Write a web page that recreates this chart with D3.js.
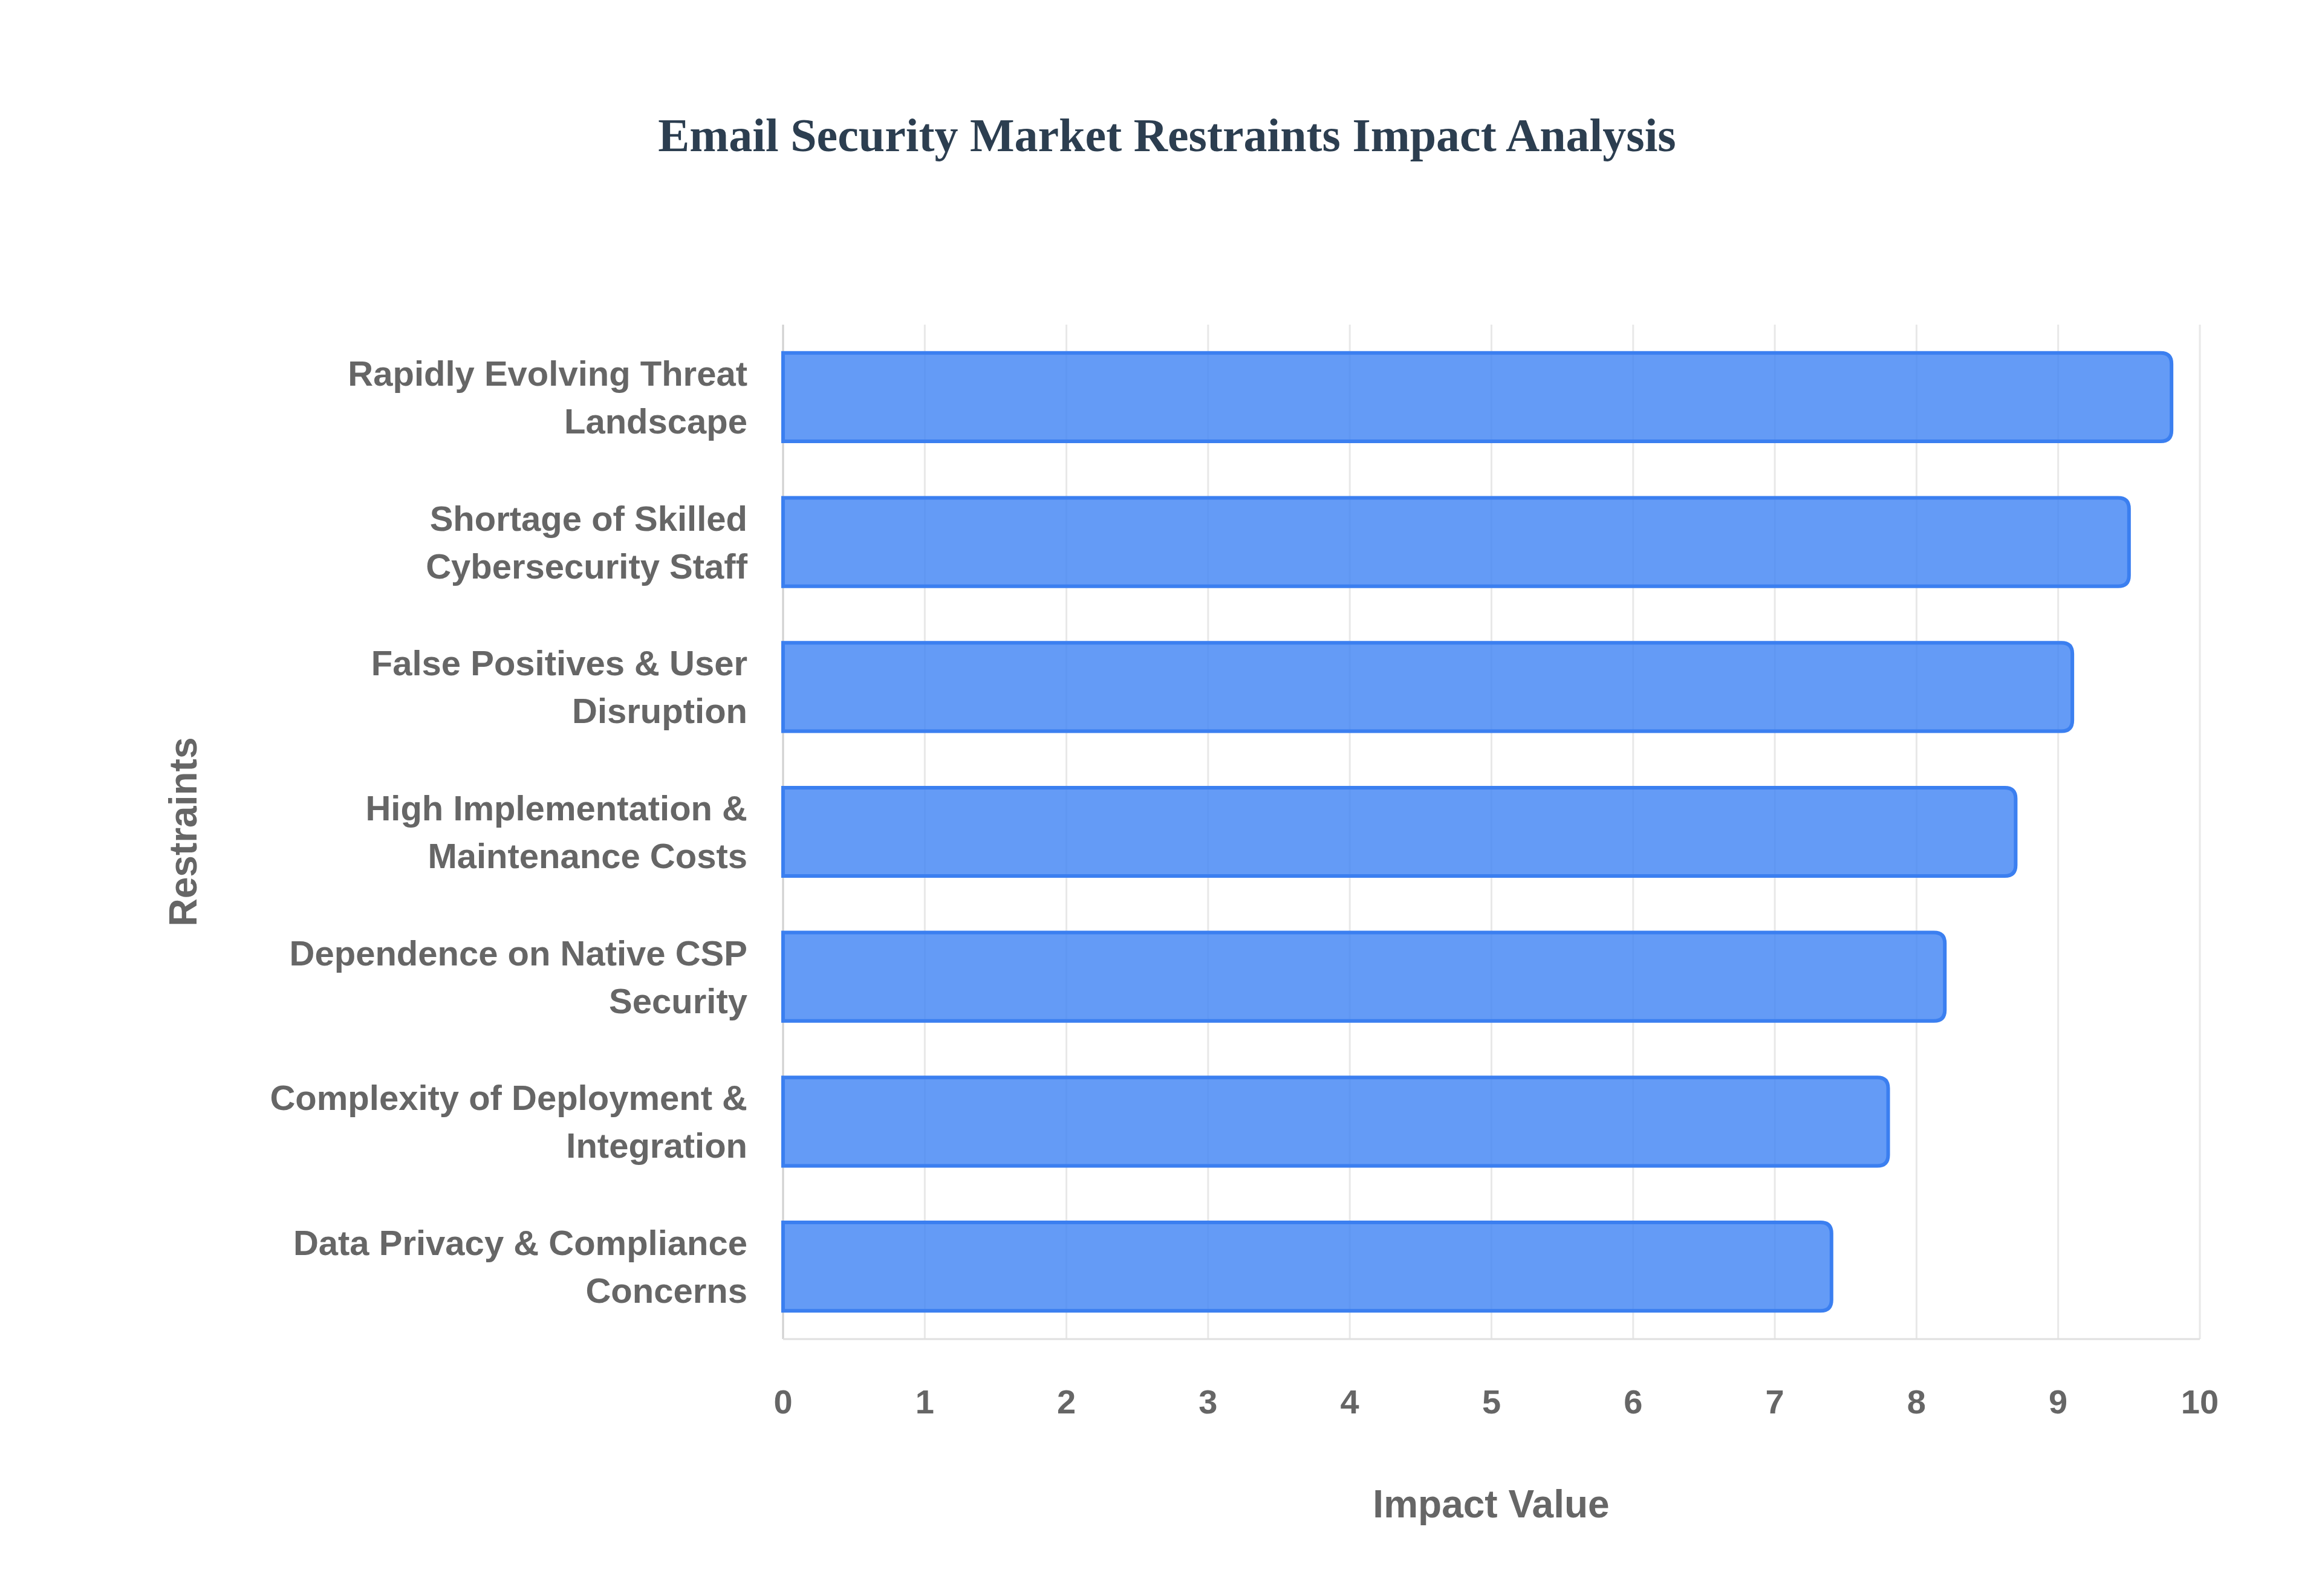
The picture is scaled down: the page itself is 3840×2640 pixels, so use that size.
<!DOCTYPE html>
<html><head><meta charset="utf-8">
<script src="https://cdn.jsdelivr.net/npm/d3@7/dist/d3.min.js"></script>
<style>body{margin:0;background:#fff}</style></head>
<body><svg id="c" width="3840" height="2640"></svg>
<script>
const categories = [
  ["Rapidly Evolving Threat","Landscape"],
  ["Shortage of Skilled","Cybersecurity Staff"],
  ["False Positives & User","Disruption"],
  ["High Implementation &","Maintenance Costs"],
  ["Dependence on Native CSP","Security"],
  ["Complexity of Deployment &","Integration"],
  ["Data Privacy & Compliance","Concerns"]
];
const values = [9.8, 9.5, 9.1, 8.7, 8.2, 7.8, 7.4];
const xTicks = [0,1,2,3,4,5,6,7,8,9,10];

const svg = d3.select("#c");
const L=1295, R=3638, T=537, B=2215;
const x = d3.scaleLinear().domain([0,10]).range([L,R]);
const y = d3.scaleBand().domain(d3.range(categories.length)).range([T,B]).paddingInner(0.39).paddingOuter(0.195);

svg.append("text").attr("x",1930).attr("y",250).attr("text-anchor","middle")
  .attr("font-family","Liberation Serif, Times New Roman, serif").attr("font-weight","bold")
  .attr("font-size",78).attr("fill","#2c3e50").text("Email Security Market Restraints Impact Analysis");

svg.append("g").selectAll("line").data(xTicks).join("line")
  .attr("x1",d=>x(d)).attr("x2",d=>x(d)).attr("y1",T).attr("y2",B)
  .attr("stroke",d=>d===0?"#d0d0d0":"#e8e8e8").attr("stroke-width",3);
svg.append("line").attr("x1",L).attr("x2",R).attr("y1",B).attr("y2",B).attr("stroke","#e0e0e0").attr("stroke-width",3);

const r=18;
svg.append("g").selectAll("path").data(values).join("path")
  .attr("d",(d,i)=>{const y0=y(i),h=y.bandwidth(),x0=x(0),x1=x(d);
    return `M${x0},${y0}H${x1-r}Q${x1},${y0} ${x1},${y0+r}V${y0+h-r}Q${x1},${y0+h} ${x1-r},${y0+h}H${x0}Z`;})
  .attr("fill","rgba(66,133,244,0.82)").attr("stroke","#3b7ff0").attr("stroke-width",6);

svg.append("g").selectAll("text").data(xTicks).join("text")
  .attr("x",d=>x(d)).attr("y",2338).attr("text-anchor","middle")
  .attr("font-family","Liberation Sans, Arial, sans-serif").attr("font-weight","bold")
  .attr("font-size",56).attr("fill","#666").text(d=>d);

const lab = svg.append("g").selectAll("text").data(categories).join("text")
  .attr("text-anchor","end").attr("font-family","Liberation Sans, Arial, sans-serif")
  .attr("font-weight","bold").attr("font-size",58).attr("fill","#666");
lab.each(function(d,i){
  const c=y(i)+y.bandwidth()/2;
  d.forEach((s,j)=>d3.select(this).append("tspan").attr("x",1236).attr("y",c-19+j*79).text(s));
});

svg.append("text").attr("x",2466).attr("y",2510).attr("text-anchor","middle")
  .attr("font-family","Liberation Sans, Arial, sans-serif").attr("font-weight","bold")
  .attr("font-size",64).attr("fill","#666").text("Impact Value");
svg.append("text").attr("transform","translate(325,1376) rotate(-90)").attr("text-anchor","middle")
  .attr("font-family","Liberation Sans, Arial, sans-serif").attr("font-weight","bold")
  .attr("font-size",64).attr("fill","#666").text("Restraints");
</script></body></html>
